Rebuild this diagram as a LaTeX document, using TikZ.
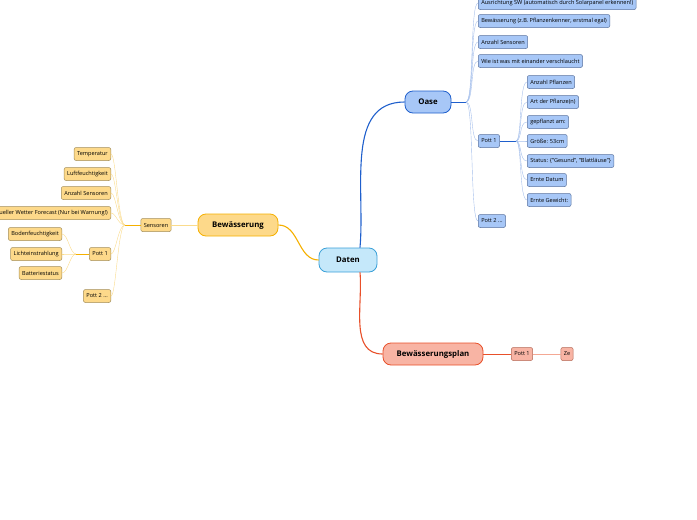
\documentclass[tikz,border=0pt]{standalone}
\usepackage{fontspec}
\setmainfont{Open Sans}
\begin{document}
\begin{tikzpicture}[x=1pt,y=-1pt,
 base/.style={rounded corners=2pt,inner xsep=3pt,inner ysep=2pt,minimum height=13pt,font=\fontsize{5.6}{6}\selectfont,line width=0.5pt},
 bl/.style={base,fill=oaseF,draw=oaseD!40!gray},
 ye/.style={base,fill=bewF,draw=bewD!30!gray},
 re/.style={base,fill=planF,draw=planD!50!gray},
 main/.style={rounded corners=8pt,minimum height=22pt,font=\fontsize{7.8}{8}\selectfont\bfseries,line width=0.8pt},
 bline/.style={draw=oaseD!40!white,line width=0.4pt},
 yline/.style={draw=bewD!45!white,line width=0.4pt},
]
\definecolor{oaseF}{HTML}{A7C7F7}\definecolor{oaseD}{HTML}{1F5FCC}
\definecolor{bewF}{HTML}{FDD98A}\definecolor{bewD}{HTML}{F5B000}
\definecolor{planF}{HTML}{F8B4A4}\definecolor{planD}{HTML}{E8502A}
\definecolor{datF}{HTML}{C5E8FA}\definecolor{datD}{HTML}{3AA0D8}
\useasboundingbox (0,0) rectangle (697,520);
\node[main,fill=datF,draw=datD,minimum width=58pt,minimum height=24pt] (daten) at (348,260) {Daten};
\node[main,fill=oaseF,draw=oaseD,minimum width=46pt] (oase) at (428,102) {Oase};
\node[main,fill=bewF,draw=bewD,minimum width=80pt] (bew) at (238,225) {Bewässerung};
\node[main,fill=planF,draw=planD,minimum width=100pt] (plan) at (433,354) {Bewässerungsplan};
\draw[oaseD,line width=1.1pt] (daten.north) ++(12,0) to[out=85,in=180] (oase.west);
\draw[bewD,line width=1.1pt] (daten.west) to[out=180,in=0] (bew.east);
\draw[planD,line width=1.1pt] (daten.south) ++(12,0) to[out=-85,in=180] (plan.west);
% Oase
\coordinate (oj) at (466,102);
\draw[oaseD,line width=0.8pt] (oase.east) -- (oj);
\foreach \n/\y/\t in {o1/3/{Ausrichtung SW (automatisch durch Solarpanel erkennen!)},o2/21/{Bewässerung (z.B. Pflanzenkenner, erstmal egal)},o3/42/{Anzahl Sensoren},o4/61/{Wie ist was mit einander verschlaucht},op1/141/{Pott 1},op2/221/{Pott 2 ...}}{
 \node[bl,anchor=west] (\n) at (478,\y) {\t};
 \draw[bline] (oj) .. controls (474,102) and (470,\y) .. (\n.west);}
\coordinate (pj) at (516,141);
\draw[oaseD,line width=0.8pt] (op1.east) -- (pj);
\foreach \n/\y/\t in {p1/82/{Anzahl Pflanzen},p2/102/{Art der Pflanze(n)},p3/122/{gepflanzt am:},p4/141/{Größe: 53cm},p5/161/{Status: \{"Gesund", "Blattläuse"\}},p6/180/{Ernte Datum},p7/200/{Ernte Gewicht:}}{
 \node[bl,anchor=west] (\n) at (527,\y) {\t};
 \draw[bline] (pj) .. controls (522,141) and (519,\y) .. (\n.west);}
% Bewaesserung
\node[ye] (sens) at (156,225) {Sensoren};
\draw[yline] (bew.west) -- (sens.east);
\coordinate (sj) at (125,225);
\draw[bewD,line width=0.8pt] (sens.west) -- (sj);
\foreach \n/\y/\t in {s1/154/{Temperatur},s2/174/{Luftfeuchtigkeit},s3/193/{Anzahl Sensoren},s4/213/{Aktueller Wetter Forecast (Nur bei Warnung!)},sp1/254/{Pott 1},sp2/296/{Pott 2 ...}}{
 \node[ye,anchor=east] (\n) at (111,\y) {\t};
 \draw[yline] (sj) .. controls (118,225) and (116,\y) .. (\n.east);}
\coordinate (tj) at (76,254);
\draw[bewD,line width=0.8pt] (sp1.west) -- (tj);
\foreach \n/\y/\t in {t1/234/{Bodenfeuchtigkeit},t2/254/{Lichteinstrahlung},t3/273/{Batteriestatus}}{
 \node[ye,anchor=east] (\n) at (62,\y) {\t};
 \draw[yline] (tj) .. controls (70,254) and (68,\y) .. (\n.east);}
% Plan
\node[re] (pp1) at (522,354) {Pott 1};
\node[re] (ze) at (567,354) {Ze};
\draw[planD,line width=0.6pt] (plan.east) -- (pp1.west);
\draw[planD!50!white,line width=0.4pt] (pp1.east) -- (ze.west);
\end{tikzpicture}
\end{document}
